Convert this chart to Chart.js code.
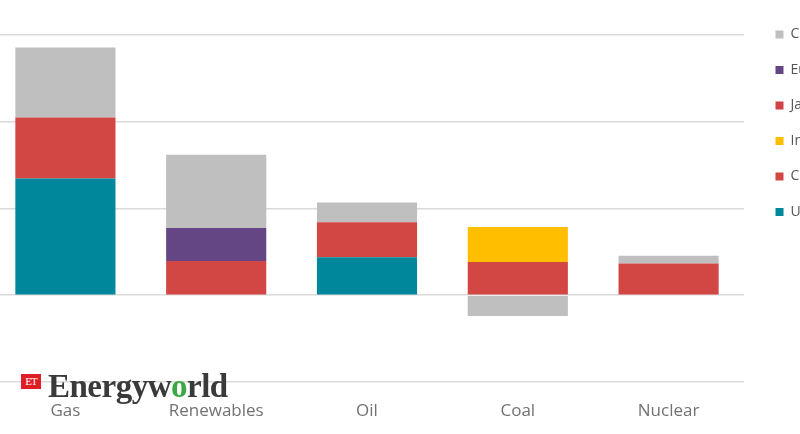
<!DOCTYPE html>
<html>
<head>
<meta charset="utf-8">
<script src="https://cdn.jsdelivr.net/npm/chart.js@4/dist/chart.umd.min.js"></script>
<style>
  html, body { margin: 0; padding: 0; background: #fff; width: 800px; height: 434px; overflow: hidden; position: relative; }
  #c { position: absolute; left: -10px; top: 0; }
  #logo { position: absolute; left: 21px; top: 370px; height: 34px; white-space: nowrap; }
  #et { position: absolute; left: 0; top: 4px; width: 20px; height: 15px; background: #e01e26; color: #fff;
        font: 11px "Liberation Serif", serif; line-height: 15px; text-align: center; letter-spacing: -1px; }
  #ew { position: absolute; left: 27px; top: 0; font: bold 33px "Liberation Serif", serif; line-height: 33px;
        color: #3a3a3a; letter-spacing: -0.5px; }
  #ew span { color: #3aa845; }
</style>
</head>
<body>
<canvas id="c" width="810" height="434"></canvas>
<div id="logo"><div id="et">ET</div><div id="ew">Energyw<span>o</span>rld</div></div>
<script>
const categories = ['Gas', 'Renewables', 'Oil', 'Coal', 'Nuclear'];
const seriesNames = ['United States', 'China', 'India', 'Japan', 'European Union', 'China, other'];
const unitedStates = [67.3, 0, 21.9, 0, 0];
const china = [35.2, 19.8, 20.2, 19.2, 18.3];
const india = [0, 0, 0, 20.2, 0];
const japan = [0, 0, 0, 0, 0];
const europeanUnion = [0, 19.0, 0, 0, 0];
const otherRegions = [40.3, 42.1, 11.4, -11.9, 4.4];
const gridTicks = [-50, 0, 50, 100, 150];

const colors = ['#00879b', '#d24644', '#ffbf00', '#cf4245', '#634683', '#bfbfbf'];
const values = [unitedStates, china, india, japan, europeanUnion, otherRegions];

const datasets = values.map((v, i) => ({
  label: seriesNames[i],
  data: v,
  backgroundColor: colors[i],
  borderWidth: 0,
  categoryPercentage: 0.83,
  barPercentage: 0.8
}));

new Chart(document.getElementById('c'), {
  type: 'bar',
  data: { labels: categories, datasets },
  options: {
    responsive: false,
    animation: false,
    devicePixelRatio: 1,
    layout: { padding: { top: 6, bottom: 0, left: 0, right: 0 } },
    plugins: {
      tooltip: { enabled: false },
      legend: {
        position: 'right',
        align: 'start',
        reverse: true,
        maxWidth: 46,
        labels: {
          boxWidth: 8,
          boxHeight: 8,
          padding: 21.5,
          color: '#555',
          font: { family: 'Open Sans', size: 14 }
        }
      }
    },
    scales: {
      x: {
        stacked: true,
        grid: { display: false },
        border: { display: false },
        afterFit: (s) => { s.height = 52; },
        ticks: { color: '#727272', padding: 11, maxRotation: 0, font: { family: 'Open Sans', size: 17 } }
      },
      y: {
        stacked: true,
        position: 'right',
        min: -50,
        max: 166.7,
        afterBuildTicks: (s) => { s.ticks = gridTicks.map(v => ({ value: v })); },
        ticks: { display: false },
        border: { display: false },
        grid: { color: '#dadada', lineWidth: 1.6, drawTicks: true, tickLength: 10, tickColor: 'rgba(0,0,0,0)' }
      }
    }
  }
});
</script>
</body>
</html>
